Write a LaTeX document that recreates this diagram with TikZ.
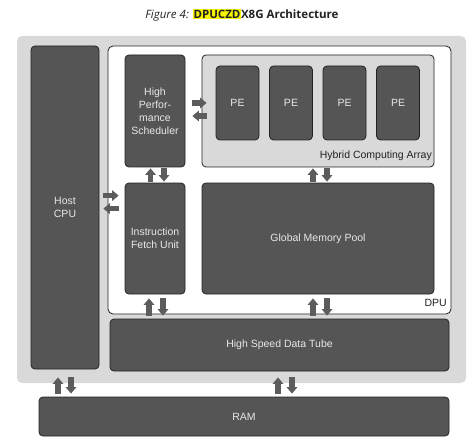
\documentclass[tikz,border=0pt]{standalone}
\usepackage{fontspec}
\setmainfont{Liberation Sans}
\newfontfamily\titlefont{Open Sans}
\usetikzlibrary{arrows.meta,calc}
\definecolor{bgrey}{HTML}{D9D9D9}
\definecolor{dgrey}{HTML}{555555}
\definecolor{edgec}{HTML}{222222}
\definecolor{txtc}{HTML}{E8E8E8}
\definecolor{arrc}{HTML}{5C5C5C}
\definecolor{hl}{HTML}{F6F400}
\tikzset{
  darkbox/.style={draw=edgec, line width=0.8pt, fill=dgrey, rounded corners=4pt,
    text=txtc, align=center, font=\fontsize{10.5}{13}\selectfont, inner sep=0pt},
  lightbox/.style={draw=edgec, line width=0.8pt, fill=bgrey, rounded corners=4pt, inner sep=0pt},
  whitebox/.style={draw=edgec, line width=0.8pt, fill=white, rounded corners=5pt, inner sep=0pt},
  barrow/.style={draw=arrc, line width=5.5pt, -{Triangle[width=10.5pt,length=6.5pt]}},
  lbl/.style={text=edgec, font=\fontsize{10.5}{13}\selectfont, inner sep=0pt}
}
\begin{document}
\begin{tikzpicture}[x=1pt,y=-1pt]
\useasboundingbox (0,0) rectangle (474,441);
\fill[white] (0,0) rectangle (474,441);
% title
\node[inner sep=0pt] (title) at (242,15) {\titlefont\fontsize{11.5}{13}\selectfont\color{edgec}\itshape Figure 4: \upshape\bfseries\setlength{\fboxsep}{0.6pt}\colorbox{hl}{DPUCZD}X8G Architecture};
% outer
\node[fill=bgrey, rounded corners=5pt, minimum width=449pt, minimum height=347pt, inner sep=0pt] (outer) at (241.5,209.5) {};
\node[darkbox, minimum width=68pt, minimum height=323pt] (host) at (65,207.5) {Host\\CPU};
\node[whitebox, minimum width=343pt, minimum height=268pt] (dpu) at (279.5,180) {};
\node[lbl, anchor=east] (dpulbl) at (447,303) {DPU};
\node[darkbox, minimum width=60pt, minimum height=112pt] (sched) at (155,111) {High\\Perfor-\\mance\\Scheduler};
\node[darkbox, minimum width=60pt, minimum height=111pt] (ifu) at (155,238.5) {Instruction\\Fetch Unit};
\node[lightbox, minimum width=232pt, minimum height=112pt] (hca) at (318,111) {};
\node[lbl, anchor=east] (hcalbl) at (432,156) {Hybrid Computing Array};
\node[darkbox, minimum width=43pt, minimum height=74pt] (pe1) at (237.5,103) {PE};
\node[darkbox, minimum width=43pt, minimum height=74pt] (pe2) at (291,103) {PE};
\node[darkbox, minimum width=43pt, minimum height=74pt] (pe3) at (344.5,103) {PE};
\node[darkbox, minimum width=43pt, minimum height=74pt] (pe4) at (398,103) {PE};
\node[darkbox, minimum width=232pt, minimum height=111pt] (gmp) at (318,238.5) {Global Memory Pool};
\node[darkbox, minimum width=339pt, minimum height=52pt] (hsdt) at (279.5,345) {High Speed Data Tube};
\node[darkbox, minimum width=410pt, minimum height=39pt] (ram) at (244,416.5) {RAM};
% arrows: scheduler <-> ifu
\draw[barrow] ($(ifu.north)+(-4.5,-1)$) -- ($(sched.south)+(-4.5,1)$);
\draw[barrow] ($(sched.south)+(9,1)$) -- ($(ifu.north)+(9,-1)$);
% hca <-> gmp
\draw[barrow] ($(gmp.north)+(-5,-1)$) -- ($(hca.south)+(-5,1)$);
\draw[barrow] ($(hca.south)+(9,1)$) -- ($(gmp.north)+(9,-1)$);
% ifu <-> hsdt
\draw[barrow] ($(ifu.south|-hsdt.north)+(-6,-3)$) -- ($(ifu.south)+(-6,4)$);
\draw[barrow] ($(ifu.south)+(8,4)$) -- ($(ifu.south|-hsdt.north)+(8,-3)$);
% gmp <-> hsdt
\draw[barrow] ($(gmp.south|-hsdt.north)+(-5,-3)$) -- ($(gmp.south)+(-5,4)$);
\draw[barrow] ($(gmp.south)+(9,4)$) -- ($(gmp.south|-hsdt.north)+(9,-3)$);
% host <-> ram
\draw[barrow] ($(host.south|-ram.north)+(-7,-3)$) -- ($(host.south)+(-7,8)$);
\draw[barrow] ($(host.south)+(6,8)$) -- ($(host.south|-ram.north)+(6,-3)$);
% hsdt <-> ram
\draw[barrow] ($(hsdt.south|-ram.north)+(-1.5,-3)$) -- ($(hsdt.south)+(-1.5,6)$);
\draw[barrow] ($(hsdt.south)+(12.5,6)$) -- ($(hsdt.south|-ram.north)+(12.5,-3)$);
% sched <-> hca
\draw[barrow] ($(sched.east)+(7,-8)$) -- ($(hca.west)+(5,-8)$);
\draw[barrow] ($(hca.west)+(5,5)$) -- ($(sched.east)+(7,5)$);
% host <-> ifu
\draw[barrow] ($(host.east|-ifu.north)+(4,13)$) -- ($(ifu.north west)+(-6,13)$);
\draw[barrow] ($(ifu.north west)+(-6,26)$) -- ($(host.east|-ifu.north)+(4,26)$);
\end{tikzpicture}
\end{document}
